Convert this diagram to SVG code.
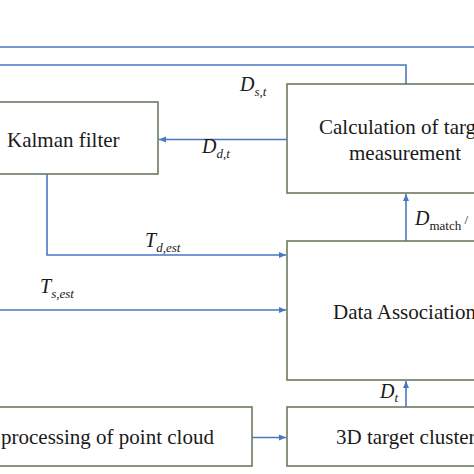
<svg xmlns="http://www.w3.org/2000/svg" width="474" height="474" viewBox="0 0 474 474">
<style>
.box{fill:#fff;stroke:#6a7a60;stroke-width:1.6}
.t{font-family:"Liberation Serif","Times New Roman",serif;font-size:21px;fill:#1a1a1a}
.c{fill:none;stroke:#4a76c2;stroke-width:1.6}
.l{font-family:"Liberation Serif","Times New Roman",serif;font-style:italic;font-size:20px;fill:#1a1a1a}
.s{font-size:13px}
</style>
<defs>
<marker id="ah" markerWidth="8" markerHeight="8" refX="7" refY="4" orient="auto" markerUnits="userSpaceOnUse">
<path d="M0,1 L7,4 L0,7 Z" fill="#4a76c2"/>
</marker>
</defs>
<rect width="474" height="474" fill="#fff"/>
<g id="connectors">
<path class="c" d="M0,47 H474"/>
<path class="c" d="M0,65 H406 V84"/>
<path class="c" d="M287,139.5 H159" marker-end="url(#ah)"/>
<path class="c" d="M47,174 V255 H286" marker-end="url(#ah)"/>
<path class="c" d="M0,310 H286" marker-end="url(#ah)"/>
<path class="c" d="M406,241 V194" marker-end="url(#ah)"/>
<path class="c" d="M406,407 V381" marker-end="url(#ah)"/>
<path class="c" d="M252,437.5 H286" marker-end="url(#ah)"/>
</g>
<g id="labels">
<text class="l" x="240" y="91">D<tspan class="s" dy="5">s,t</tspan></text>
<text class="l" x="202" y="153">D<tspan class="s" dy="5">d,t</tspan></text>
<text class="l" x="145" y="247">T<tspan class="s" dy="5">d,est</tspan></text>
<text class="l" x="40" y="293">T<tspan class="s" dy="5">s,est</tspan></text>
<text class="l" x="415" y="225">D<tspan class="s" dy="5" font-style="normal">match</tspan><tspan class="s" dy="-6" font-style="normal"> /</tspan></text>
<text class="l" x="380" y="398">D<tspan class="s" dy="4">t</tspan></text>
</g>
<g id="calc">
<rect class="box" x="287" y="84" width="250" height="109"/>
<text class="t" x="319" y="134">Calculation of targ</text>
<text class="t" x="405" y="160" text-anchor="middle">measurement</text>
</g>
<g id="kalman">
<rect class="box" x="-40" y="102" width="198" height="72"/>
<text class="t" x="7" y="146.5">Kalman filter</text>
</g>
<g id="assoc">
<rect class="box" x="287" y="241" width="250" height="139"/>
<text class="t" x="333" y="319">Data Association</text>
</g>
<g id="cluster">
<rect class="box" x="287" y="407" width="250" height="59"/>
<text class="t" x="336" y="444">3D target cluster</text>
</g>
<g id="preproc">
<rect class="box" x="-10" y="407" width="262" height="59"/>
<text class="t" x="1" y="444">processing of point cloud</text>
</g>
</svg>
